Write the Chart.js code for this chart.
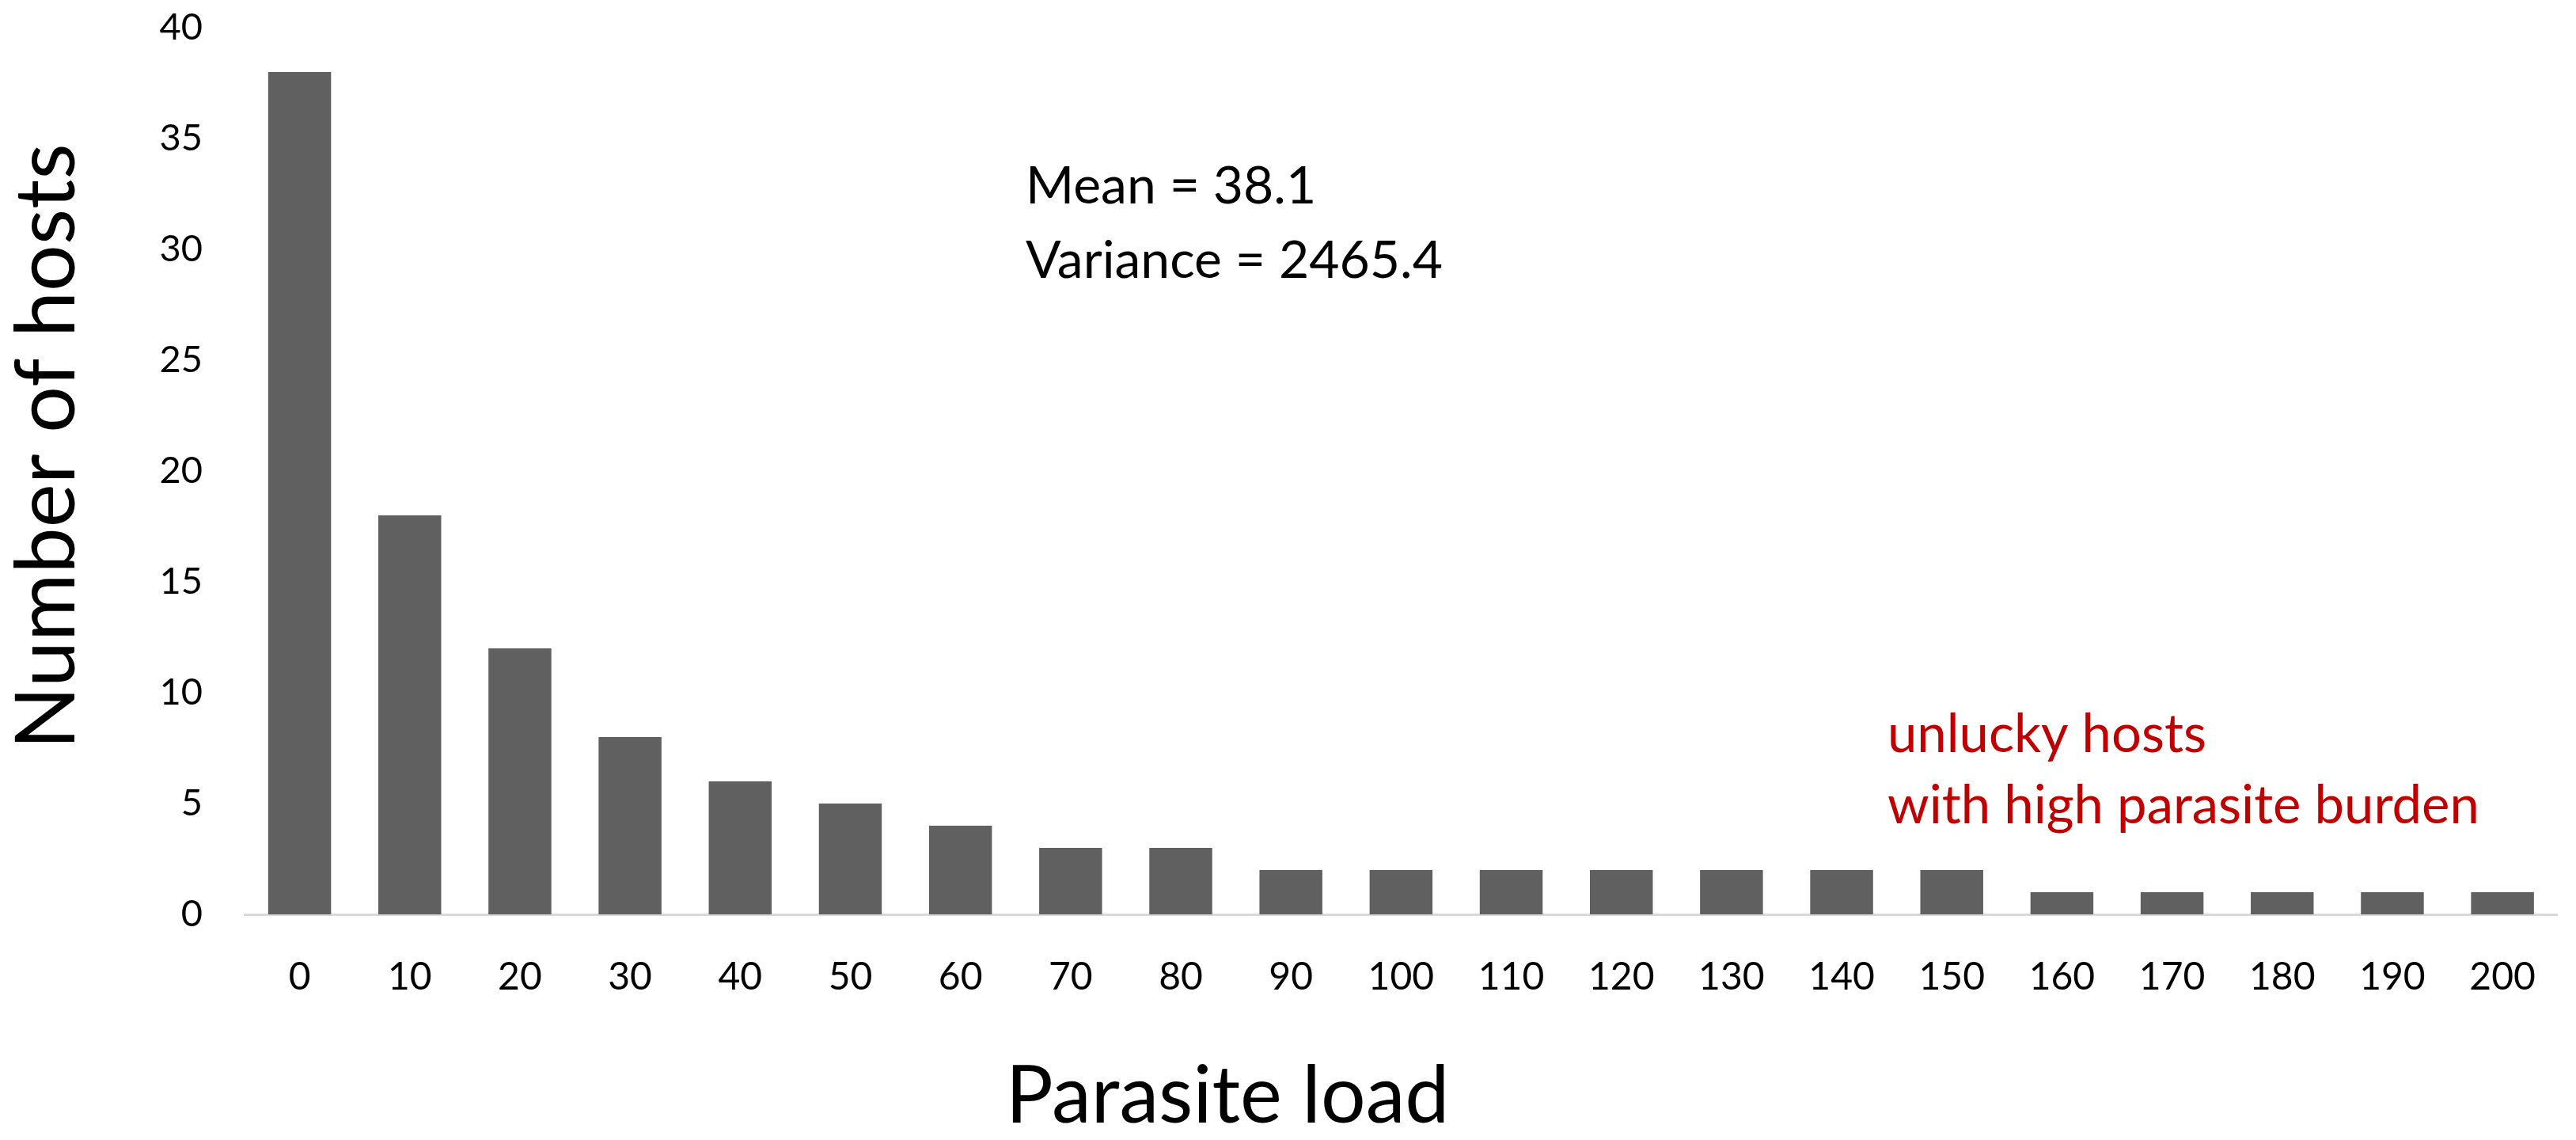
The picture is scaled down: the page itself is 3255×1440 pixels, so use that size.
<!DOCTYPE html>
<html>
<head>
<meta charset="utf-8">
<script src="https://cdn.jsdelivr.net/npm/chart.js@4.4.1/dist/chart.umd.min.js"></script>
<style>
  html, body { margin: 0; padding: 0; background: #ffffff; overflow: hidden; }
  #wrap { width: 3255px; height: 1440px; }
</style>
</head>
<body>
<div id="wrap"><canvas id="c" width="3255" height="1440"></canvas></div>
<script>
const categories = ['0','10','20','30','40','50','60','70','80','90','100','110','120','130','140','150','160','170','180','190','200'];
const hostCounts = [38,18,12,8,6,5,4,3,3,2,2,2,2,2,2,2,1,1,1,1,1];
const yTicks = [0,5,10,15,20,25,30,35,40];
const xTitle = 'Parasite load';
const yTitle = 'Number of hosts';
const statsLines = ['Mean = 38.1', 'Variance = 2465.4'];
const noteLines = ['unlucky hosts', 'with high parasite burden'];

const FONT = 'Lato, "Open Sans", sans-serif';

const textPlugin = {
  id: 'texts',
  afterDraw(chart) {
    const ctx = chart.ctx;
    ctx.save();
    ctx.fillStyle = '#000000';
    ctx.font = '104px ' + FONT;
    ctx.textAlign = 'center';
    ctx.textBaseline = 'alphabetic';
    ctx.translate(94, 564);
    ctx.rotate(-Math.PI / 2);
    ctx.fillText(yTitle, 0, 0);
    ctx.restore();

    ctx.save();
    ctx.fillStyle = '#000000';
    ctx.font = '100px ' + FONT;
    ctx.textAlign = 'center';
    ctx.textBaseline = 'alphabetic';
    ctx.fillText(xTitle, 1551, 1418);

    ctx.font = '66px ' + FONT;
    ctx.textAlign = 'left';
    ctx.fillText(statsLines[0], 1296, 257);
    ctx.fillText(statsLines[1], 1296, 351);

    ctx.fillStyle = '#C00000';
    ctx.font = '67px ' + FONT;
    ctx.fillText(noteLines[0], 2385, 950);
    ctx.fillText(noteLines[1], 2385, 1040);
    ctx.restore();
  }
};

new Chart(document.getElementById('c'), {
  type: 'bar',
  data: {
    labels: categories,
    datasets: [{
      data: hostCounts,
      backgroundColor: '#606060',
      borderWidth: 0,
      categoryPercentage: 1.0,
      barPercentage: 0.571
    }]
  },
  options: {
    responsive: false,
    devicePixelRatio: 1,
    animation: false,
    layout: { padding: { left: 0, right: 5, top: 35, bottom: 0 } },
    plugins: { legend: { display: false }, tooltip: { enabled: false } },
    scales: {
      x: {
        grid: { display: false, drawTicks: false },
        border: { display: true, color: '#d9d9d9', width: 3 },
        ticks: {
          color: '#000000',
          font: { family: FONT, size: 48 },
          padding: 51,
          maxRotation: 0,
          autoSkip: false
        },
        afterFit(scale) { scale.height = 285; }
      },
      y: {
        min: 0,
        max: 40,
        afterBuildTicks(scale) { scale.ticks = yTicks.map(v => ({ value: v })); },
        grid: { display: false, drawTicks: false },
        border: { display: false },
        ticks: {
          color: '#000000',
          font: { family: FONT, size: 47 },
          padding: 53
        },
        afterFit(scale) { scale.width = 309; scale.paddingTop = 0; scale.paddingBottom = 0; }
      }
    }
  },
  plugins: [textPlugin]
});
</script>
</body>
</html>
